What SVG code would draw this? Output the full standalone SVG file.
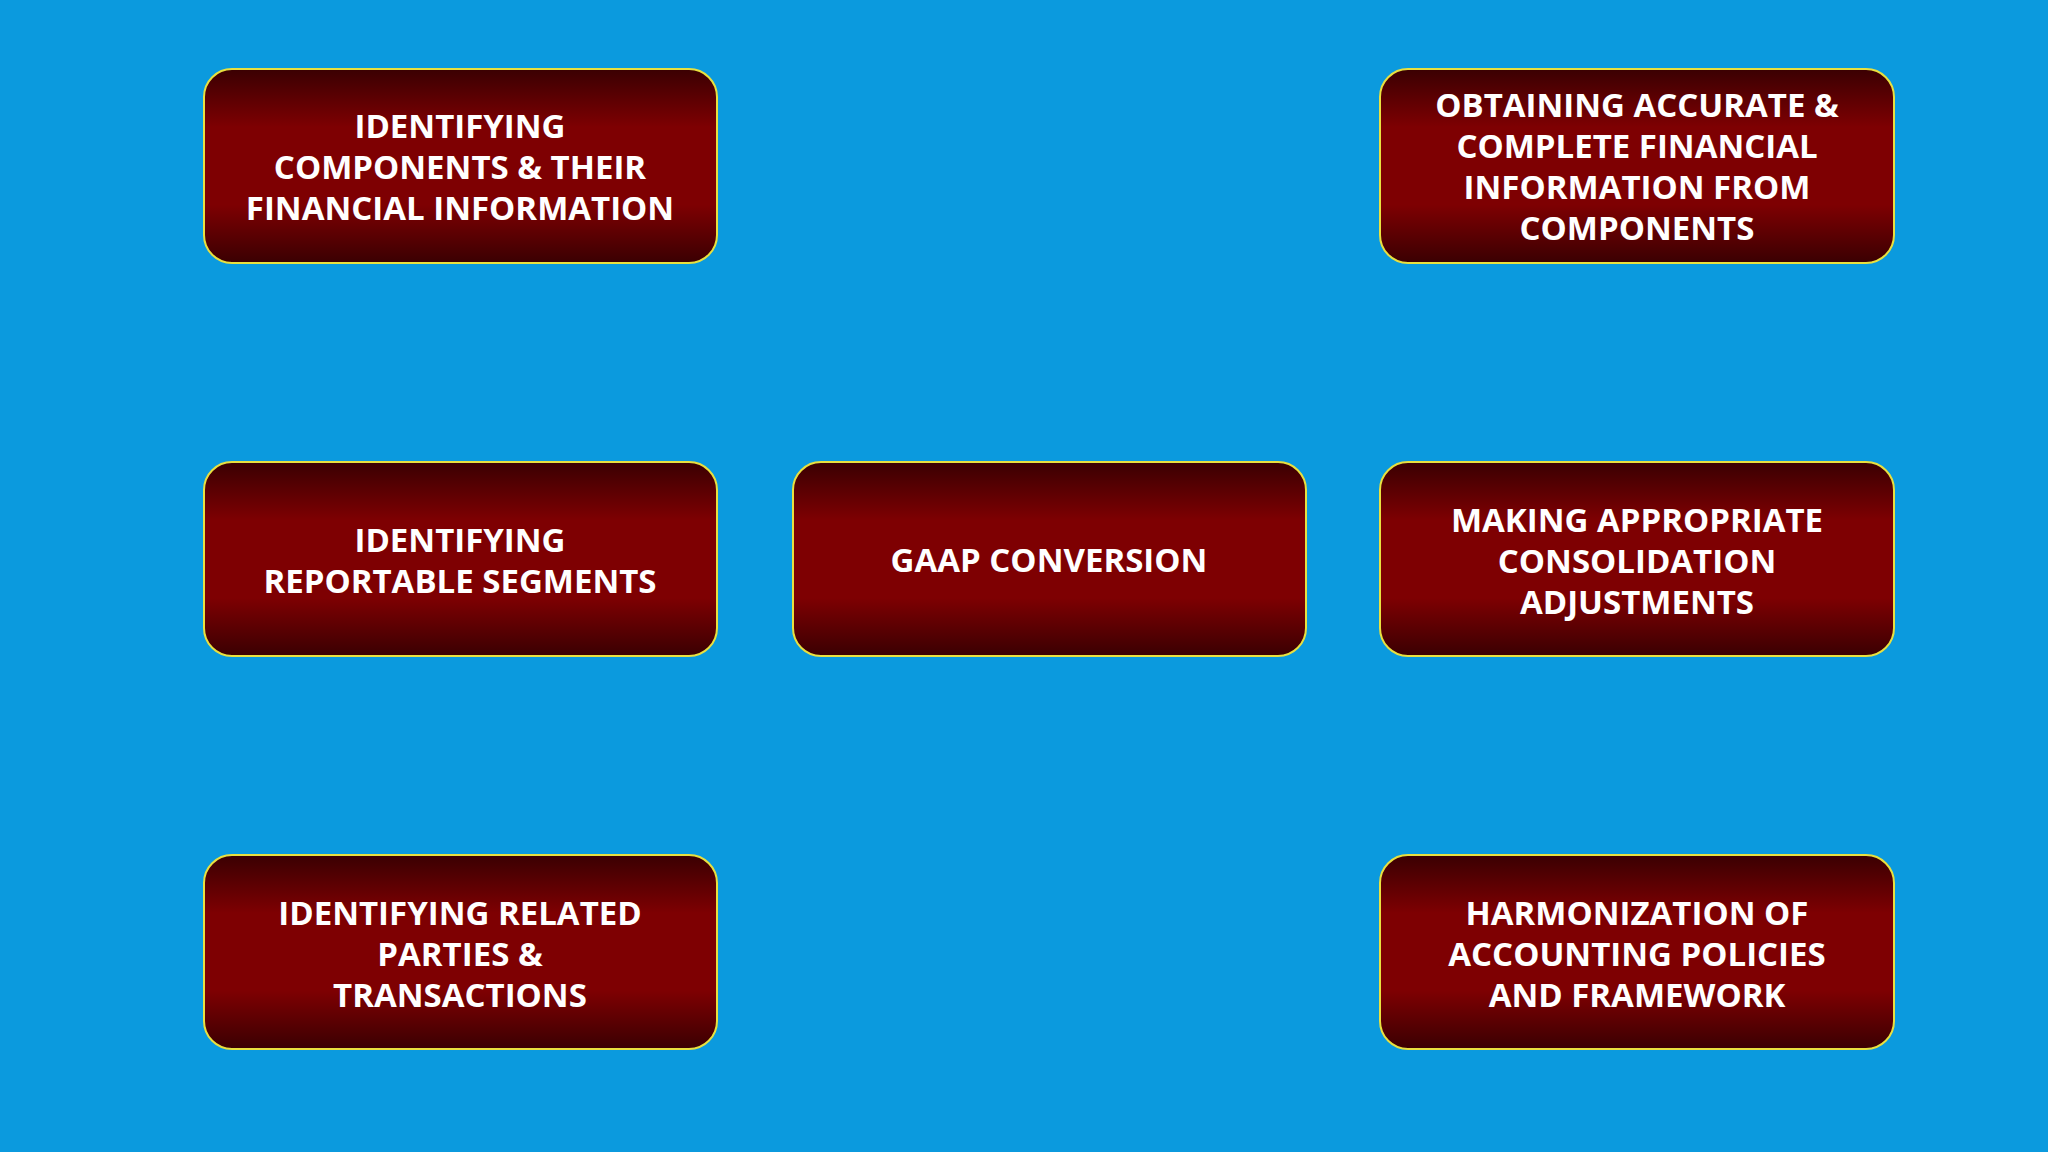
<svg xmlns="http://www.w3.org/2000/svg" width="2048" height="1152" viewBox="0 0 2048 1152">
<defs>
<linearGradient id="g" x1="0" y1="0" x2="0" y2="1">
<stop offset="0" stop-color="#3a0002"/>
<stop offset="0.3" stop-color="#7e0002"/>
<stop offset="0.7" stop-color="#7e0002"/>
<stop offset="1" stop-color="#3a0002"/>
</linearGradient>
<style>
.b{fill:url(#g);stroke:#e8e040;stroke-width:2}
.t{font-family:"Open Sans","Noto Sans",sans-serif;font-weight:bold;font-size:33px;fill:#fff;text-anchor:middle}
</style>
</defs>
<rect width="2048" height="1152" fill="#0b9ade"/>
<g id="n1"><rect class="b" x="204" y="69" width="513" height="194" rx="28"/>
<text class="t"><tspan x="460" y="138">IDENTIFYING</tspan><tspan x="460" y="179">COMPONENTS &amp; THEIR</tspan><tspan x="460" y="220">FINANCIAL INFORMATION</tspan></text></g>
<g id="n2"><rect class="b" x="1380" y="69" width="514" height="194" rx="28"/>
<text class="t"><tspan x="1637" y="117">OBTAINING ACCURATE &amp;</tspan><tspan x="1637" y="158">COMPLETE FINANCIAL</tspan><tspan x="1637" y="199">INFORMATION FROM</tspan><tspan x="1637" y="240">COMPONENTS</tspan></text></g>
<g id="n3"><rect class="b" x="204" y="462" width="513" height="194" rx="28"/>
<text class="t"><tspan x="460" y="552">IDENTIFYING</tspan><tspan x="460" y="593">REPORTABLE SEGMENTS</tspan></text></g>
<g id="n4"><rect class="b" x="793" y="462" width="513" height="194" rx="28"/>
<text class="t"><tspan x="1049" y="572">GAAP CONVERSION</tspan></text></g>
<g id="n5"><rect class="b" x="1380" y="462" width="514" height="194" rx="28"/>
<text class="t"><tspan x="1637" y="532">MAKING APPROPRIATE</tspan><tspan x="1637" y="573">CONSOLIDATION</tspan><tspan x="1637" y="614">ADJUSTMENTS</tspan></text></g>
<g id="n6"><rect class="b" x="204" y="855" width="513" height="194" rx="28"/>
<text class="t"><tspan x="460" y="925">IDENTIFYING RELATED</tspan><tspan x="460" y="966">PARTIES &amp;</tspan><tspan x="460" y="1007">TRANSACTIONS</tspan></text></g>
<g id="n7"><rect class="b" x="1380" y="855" width="514" height="194" rx="28"/>
<text class="t"><tspan x="1637" y="925">HARMONIZATION OF</tspan><tspan x="1637" y="966">ACCOUNTING POLICIES</tspan><tspan x="1637" y="1007">AND FRAMEWORK</tspan></text></g>
<g id="connectors"/>
</svg>
